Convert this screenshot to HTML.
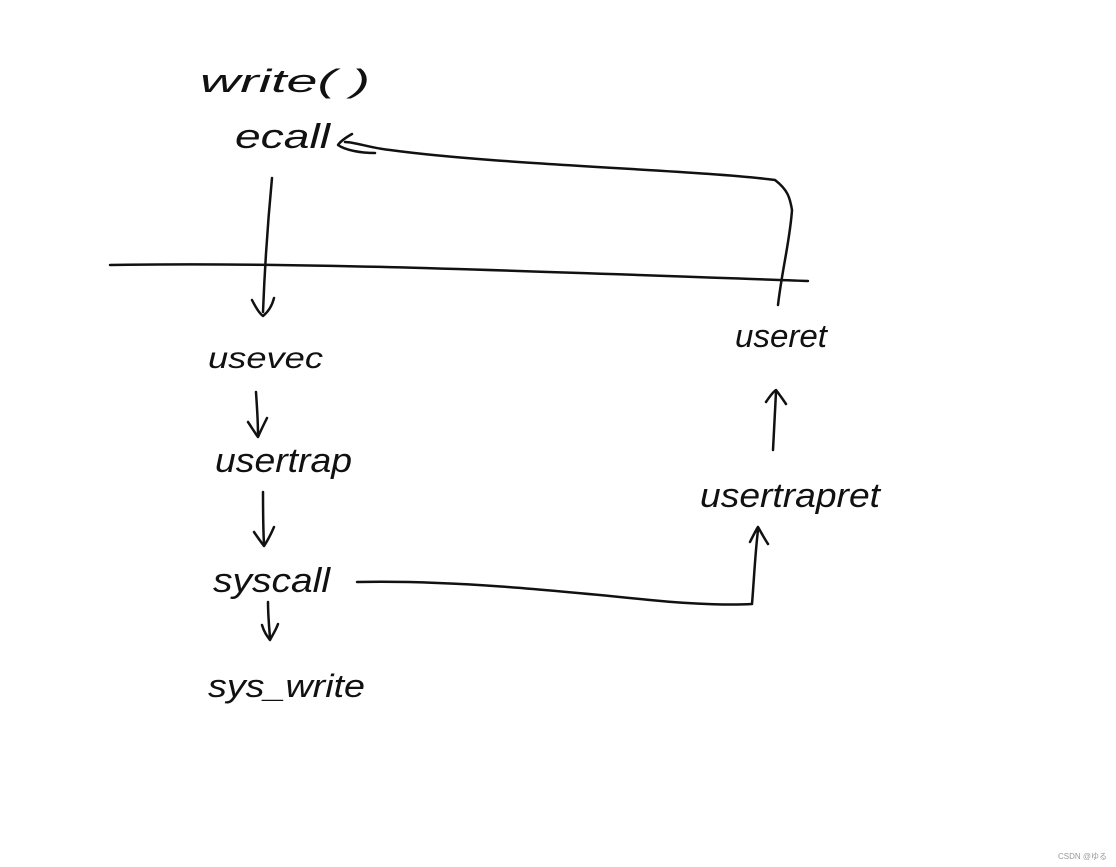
<!DOCTYPE html>
<html><head><meta charset="utf-8"><style>
html,body{margin:0;padding:0;background:#fff;}
svg{display:block}
text{font-family:"Liberation Sans",sans-serif;fill:#111;font-style:italic;}
</style></head><body>
<svg width="1116" height="867" viewBox="0 0 1116 867" xmlns="http://www.w3.org/2000/svg">
<g fill="none" stroke="#111" stroke-width="2.5" stroke-linecap="round" stroke-linejoin="round">
<path d="M110 265 C300 262 500 270 808 281"/>
<path d="M272 178 C268 220 265 260 263 312"/>
<path d="M252 300 C256 308 260 314 263 316 C268 312 272 306 274 298"/>
<path d="M778 305 C782 270 790 240 792 210 C790 198 788 190 775 180 C700 170 500 165 390 150 C370 148 355 142 345 142"/>
<path d="M352 134 C345 138 340 142 338 145 C345 150 360 153 375 153"/>
<path d="M256 392 C257 408 258 420 258 435"/>
<path d="M248 422 C252 428 255 433 258 437 C261 430 264 424 267 418"/>
<path d="M263 492 C263 510 263 525 264 545"/>
<path d="M254 532 C258 538 261 542 264 546 C268 540 271 534 274 527"/>
<path d="M268 602 C268 615 269 625 270 638"/>
<path d="M262 625 C264 632 267 636 270 640 C273 634 276 630 278 624"/>
<path d="M357 582 C450 580 550 590 650 600 C700 605 735 605 752 604 C754 580 755 555 758 530"/>
<path d="M750 542 C753 536 756 530 758 527 C761 532 764 538 768 544"/>
<path d="M773 450 L776 392"/>
<path d="M766 402 C770 396 773 392 776 390 C779 394 782 398 786 404"/>
</g>
<text x="200" y="92" font-size="32" textLength="170" lengthAdjust="spacingAndGlyphs">write( )</text>
<text x="235" y="148" font-size="34" textLength="95" lengthAdjust="spacingAndGlyphs">ecall</text>
<text x="208" y="368" font-size="30" textLength="115" lengthAdjust="spacingAndGlyphs">usevec</text>
<text x="215" y="472" font-size="34" textLength="137" lengthAdjust="spacingAndGlyphs">usertrap</text>
<text x="213" y="592" font-size="34" textLength="117" lengthAdjust="spacingAndGlyphs">syscall</text>
<text x="208" y="697" font-size="32" textLength="157" lengthAdjust="spacingAndGlyphs">sys_write</text>
<text x="735" y="347" font-size="32" textLength="92" lengthAdjust="spacingAndGlyphs">useret</text>
<text x="700" y="507" font-size="34" textLength="180" lengthAdjust="spacingAndGlyphs">usertrapret</text>
<text x="1058" y="859" font-size="8" style="fill:#999;font-style:normal">CSDN @ゆる</text>
</svg>
</body></html>
